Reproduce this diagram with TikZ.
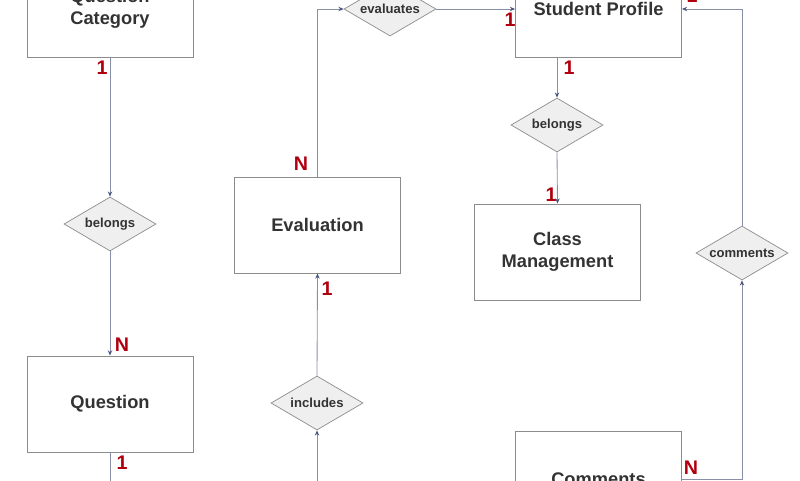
\documentclass[tikz,border=0pt]{standalone}
\usepackage{fontspec}
\setmainfont{Liberation Sans}
\usetikzlibrary{shapes.geometric,arrows.meta}
\definecolor{boxgray}{HTML}{8C8C8C}
\definecolor{diafill}{HTML}{EFEFEF}
\definecolor{textgray}{HTML}{333333}
\definecolor{cardred}{HTML}{B0000F}
\definecolor{edgegray}{HTML}{8890A8}
\definecolor{tipblue}{HTML}{4A5580}
\begin{document}
\begin{tikzpicture}[x=0.025cm, y=-0.025cm,
  entity/.style={draw=boxgray, line width=0.6pt, fill=white, minimum width=4.15cm, minimum height=2.4cm,
    font=\bfseries\fontsize{13}{15.5}\selectfont, text=textgray, align=center},
  relation/.style={diamond, aspect=1.7, draw=boxgray, line width=0.5pt, fill=diafill, minimum width=2.3cm, minimum height=1.35cm,
    inner sep=0pt, font=\bfseries\fontsize{9.3}{11}\selectfont, text=textgray},
  card/.style={text=cardred, font=\bfseries\fontsize{14}{16}\selectfont, inner sep=0pt},
  link/.style={draw=edgegray, line width=0.6pt, -{Stealth[length=1.3mm, width=1.1mm, color=tipblue]}}]
  \clip (0,0) rectangle (800,480);
  % entities
  \node[entity] (qcat) at (110,9) {Question\\Category};
  \node[entity] (question) at (110,404) {Question};
  \node[entity] (eval) at (317.5,225) {Evaluation};
  \node[entity] (student) at (598.5,9) {Student Profile};
  \node[entity] (classmgmt) at (557.5,252) {Class\\Management};
  \node[entity] (comments) at (598.5,479) {Comments};
  % relations
  \node[relation] (belongsq) at (110,224) {belongs};
  \node[relation] (evaluates) at (390,9) {evaluates};
  \node[relation] (belongsc) at (557,125) {belongs};
  \node[relation] (includes) at (317,403) {includes};
  \node[relation] (commentsr) at (742,253) {comments};
  % connectors
  \coordinate (qtail) at (110,500);
  \coordinate (itail) at (317,500);
  \draw[link] (qcat.south) -- (belongsq.north);
  \draw[link] (belongsq.south) -- (question.north);
  \draw[draw=edgegray, line width=0.6pt] (question.south) -- (qtail);
  \draw[link] (eval.north) |- (evaluates.west);
  \draw[link] (evaluates.east) -- (student.west);
  \draw[link] (belongsc.north |- student.south) -- (belongsc.north);
  \draw[link] (belongsc.south) -- (classmgmt.north);
  \draw[link] (includes.north) -- (eval.south);
  \draw[link] (itail) -- (includes.south);
  \draw[link] (comments.east) -| (commentsr.south);
  \draw[link] (commentsr.north) |- (student.east);
  % cardinalities
  \node[card] (c1) at (102,68) {1};
  \node[card] (c2) at (122,345) {N};
  \node[card] (c3) at (122,463) {1};
  \node[card] (c4) at (301,164) {N};
  \node[card] (c5) at (510,20) {1};
  \node[card] (c6) at (569,68) {1};
  \node[card] (c7) at (551,195) {1};
  \node[card] (c8) at (327,289) {1};
  \node[card] (c9) at (691,468) {N};
  \node[card] (c10) at (692,-4) {1};
\end{tikzpicture}
\end{document}
